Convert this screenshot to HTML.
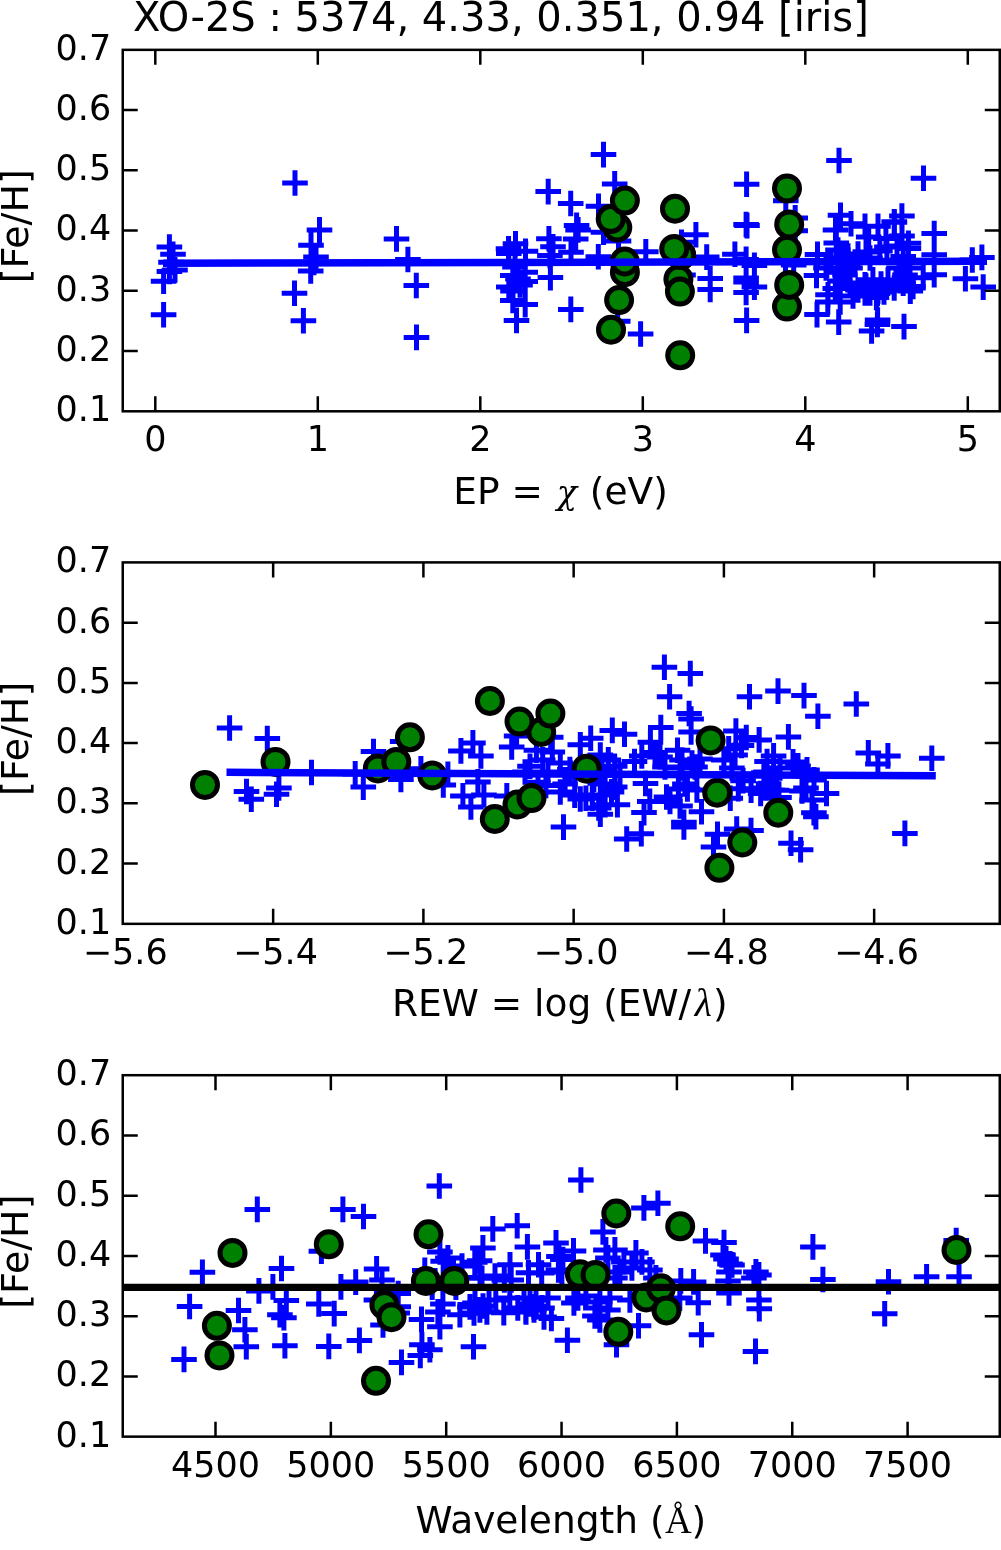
<!DOCTYPE html>
<html><head><meta charset="utf-8"><title>XO-2S</title>
<style>html,body{margin:0;padding:0;background:#fff}svg{display:block}text{font-family:"DejaVu Sans","Liberation Sans",sans-serif;fill:#000}.t{font-size:35px}.l{font-size:37.5px}.ti{font-size:40px}.m{font-family:"DejaVu Serif",serif;font-style:italic;font-size:33.5px}.m2{font-family:"Liberation Serif",serif;font-style:italic;font-size:39.5px}.s{font-family:"Liberation Serif",serif;font-size:37px}.c{stroke:#00f;stroke-width:5;fill:none}.g circle{fill:#008000;stroke:#000;stroke-width:5}.ax{stroke:#000;stroke-width:2.5;fill:none}</style></head><body>
<svg width="1001" height="1550" viewBox="0 0 1001 1550">
<rect width="1001" height="1550" fill="#fff"/>
<text class="ti" x="133" y="30.5">XO-2S : 5374, 4.33, 0.351, 0.94 [iris]</text>
<g>
<clipPath id="cp0"><rect x="122.75" y="49.85" width="877.0" height="361.45"/></clipPath>
<g clip-path="url(#cp0)">
<path class="c" d="M156.6 247.1h25.6M169.4 234.3v25.6M160.2 254.3h25.6M173 241.5v25.6M158.2 262.3h25.6M171 249.5v25.6M162.2 269.9h25.6M175 257.1v25.6M156.6 271.5h25.6M169.4 258.7v25.6M150.8 281.3h25.6M163.6 268.5v25.6M150.8 314.8h25.6M163.6 302v25.6M282.2 183h25.6M295 170.2v25.6M306.7 229.9h25.6M319.5 217.1v25.6M298.2 245.3h25.6M311 232.5v25.6M303.2 256.9h25.6M316 244.1v25.6M297.9 270.9h25.6M310.7 258.1v25.6M281.7 293.2h25.6M294.5 280.4v25.6M290.6 320.8h25.6M303.4 308v25.6M301.2 262.5h25.6M314 249.7v25.6M383.7 238.9h25.6M396.5 226.1v25.6M395.1 259.5h25.6M407.9 246.7v25.6M403.5 285.5h25.6M416.3 272.7v25.6M403.7 337.4h25.6M416.5 324.6v25.6M495.7 248.8h25.6M508.5 236v25.6M502.7 243.8h25.6M515.5 231v25.6M512.7 251.3h25.6M525.5 238.5v25.6M496 253.5h25.6M508.8 240.7v25.6M512.4 272.2h25.6M525.2 259.4v25.6M500 275.4h25.6M512.8 262.6v25.6M512.4 281.4h25.6M525.2 268.6v25.6M496 287.1h25.6M508.8 274.3v25.6M500 300.4h25.6M512.8 287.6v25.6M512.4 304.6h25.6M525.2 291.8v25.6M503.7 320.4h25.6M516.5 307.6v25.6M502.2 267h25.6M515 254.2v25.6M505.2 279h25.6M518 266.2v25.6M500.2 291h25.6M513 278.2v25.6M502.2 262h25.6M515 249.2v25.6M507.2 285h25.6M520 272.2v25.6M536.1 238.7h25.6M548.9 225.9v25.6M540.2 246.8h25.6M553 234v25.6M537.1 255.5h25.6M549.9 242.7v25.6M537.6 277.6h25.6M550.4 264.8v25.6M558.2 252.2h25.6M571 239.4v25.6M558 309.4h25.6M570.8 296.6v25.6M590.7 154.6h25.6M603.5 141.8v25.6M601.9 183.9h25.6M614.7 171.1v25.6M535.4 191.6h25.6M548.2 178.8v25.6M557.9 203.5h25.6M570.7 190.7v25.6M585.7 206.3h25.6M598.5 193.5v25.6M563.8 225.4h25.6M576.6 212.6v25.6M565.3 229.9h25.6M578.1 217.1v25.6M562.9 238.9h25.6M575.7 226.1v25.6M590.7 232.3h25.6M603.5 219.5v25.6M585.5 256.8h25.6M598.3 244v25.6M633 251.8h25.6M645.8 239v25.6M605.7 240.9h25.6M618.5 228.1v25.6M627.8 334h25.6M640.6 321.2v25.6M604.9 321.3h25.6M617.7 308.5v25.6M733.8 184.2h25.6M746.6 171.4v25.6M733.3 224.5h25.6M746.1 211.7v25.6M734.2 225.6h25.6M747 212.8v25.6M683.1 234.7h25.6M695.9 221.9v25.6M668.7 242.3h25.6M681.5 229.5v25.6M693.9 257.1h25.6M706.7 244.3v25.6M722.1 254.2h25.6M734.9 241.4v25.6M733.3 259.4h25.6M746.1 246.6v25.6M741.6 265.4h25.6M754.4 252.6v25.6M697.4 278.6h25.6M710.2 265.8v25.6M697.4 289.4h25.6M710.2 276.6v25.6M733.3 278.1h25.6M746.1 265.3v25.6M733.3 281.9h25.6M746.1 269.1v25.6M741.6 287.1h25.6M754.4 274.3v25.6M733.3 292.4h25.6M746.1 279.6v25.6M733.8 320.4h25.6M746.6 307.6v25.6M670.2 275h25.6M683 262.2v25.6M773 200.7h25.6M785.8 187.9v25.6M782.4 217.9h25.6M795.2 205.1v25.6M782.4 230.7h25.6M795.2 217.9v25.6M772.7 262h25.6M785.5 249.2v25.6M780.9 265h25.6M793.7 252.2v25.6M826.2 160.5h25.6M839 147.7v25.6M827.7 215.3h25.6M840.5 202.5v25.6M838.2 223.8h25.6M851 211v25.6M852.2 226.3h25.6M865 213.5v25.6M865.2 226.3h25.6M878 213.5v25.6M881.6 222.3h25.6M894.4 209.5v25.6M822.7 230h25.6M835.5 217.2v25.6M823.5 243h25.6M836.3 230.2v25.6M804.7 254.4h25.6M817.5 241.6v25.6M803.7 275.4h25.6M816.5 262.6v25.6M815.2 294.7h25.6M828 281.9v25.6M822.5 288.4h25.6M835.3 275.6v25.6M815 301.9h25.6M827.8 289.1v25.6M827.4 301.9h25.6M840.2 289.1v25.6M804.2 314.6h25.6M817 301.8v25.6M825.9 322.1h25.6M838.7 309.3v25.6M864.8 320h25.6M877.6 307.2v25.6M864.6 324.5h25.6M877.4 311.7v25.6M858.8 331h25.6M871.6 318.2v25.6M891.2 326.6h25.6M904 313.8v25.6M855.9 237h25.6M868.7 224.2v25.6M873.1 238.5h25.6M885.9 225.7v25.6M874.1 247h25.6M886.9 234.2v25.6M867.1 251.1h25.6M879.9 238.3v25.6M825.2 250h25.6M838 237.2v25.6M830.2 258h25.6M843 245.2v25.6M835.2 256h25.6M848 243.2v25.6M845.2 254h25.6M858 241.2v25.6M853.2 252h25.6M866 239.2v25.6M842.2 262h25.6M855 249.2v25.6M818.2 262h25.6M831 249.2v25.6M857.2 258h25.6M870 245.2v25.6M890.4 256.4h25.6M903.2 243.6v25.6M889.2 236h25.6M902 223.2v25.6M884.2 246h25.6M897 233.2v25.6M886.2 268h25.6M899 255.2v25.6M892.2 275h25.6M905 262.2v25.6M883.2 280h25.6M896 267.2v25.6M897.2 268h25.6M910 255.2v25.6M832.2 275h25.6M845 262.2v25.6M837.2 283h25.6M850 270.2v25.6M845.2 290h25.6M858 277.2v25.6M853.2 286h25.6M866 273.2v25.6M860.1 279.7h25.6M872.9 266.9v25.6M868.2 284h25.6M881 271.2v25.6M875.2 280h25.6M888 267.2v25.6M863.6 297.4h25.6M876.4 284.6v25.6M827.2 281h25.6M840 268.2v25.6M840.2 296h25.6M853 283.2v25.6M852.2 293h25.6M865 280.2v25.6M871.2 292h25.6M884 279.2v25.6M813.2 268h25.6M826 255.2v25.6M825.2 270h25.6M838 257.2v25.6M837.2 268h25.6M850 255.2v25.6M900.3 286.4h25.6M913.1 273.6v25.6M852.2 284.9h25.6M865 272.1v25.6M865.2 290.9h25.6M878 278.1v25.6M857.2 292.9h25.6M870 280.1v25.6M910.7 178.3h25.6M923.5 165.5v25.6M921.4 233.5h25.6M934.2 220.7v25.6M921.4 254.8h25.6M934.2 242v25.6M921.4 274.8h25.6M934.2 262v25.6M959.5 260h25.6M972.3 247.2v25.6M969.1 257.4h25.6M981.9 244.6v25.6M952.6 278.7h25.6M965.4 265.9v25.6M970.4 287.1h25.6M983.2 274.3v25.6M889.1 216h25.6M901.9 203.2v25.6M881.4 221.8h25.6M894.2 209v25.6M895.6 243.2h25.6M908.4 230.4v25.6M895.6 248.4h25.6M908.4 235.6v25.6M910.4 277.8h25.6M923.2 265v25.6M897.5 291.1h25.6M910.3 278.3v25.6M881.4 287.9h25.6M894.2 275.1v25.6M890.4 283.2h25.6M903.2 270.4v25.6M864.7 293.5h25.6M877.5 280.7v25.6"/>
<g class="g">
<circle cx="619.1" cy="300.1" r="12.5"/>
<circle cx="611" cy="329.7" r="12.5"/>
<circle cx="617.3" cy="227.5" r="12.5"/>
<circle cx="610.7" cy="219.1" r="12.5"/>
<circle cx="680.2" cy="355.3" r="12.5"/>
<circle cx="678.4" cy="279.2" r="12.5"/>
<circle cx="679.9" cy="291.6" r="12.5"/>
<circle cx="681" cy="254.9" r="12.5"/>
<circle cx="675" cy="208.7" r="12.5"/>
<circle cx="681.2" cy="255" r="12.5"/>
<circle cx="674.2" cy="248.9" r="12.5"/>
<circle cx="787" cy="249.8" r="12.5"/>
<circle cx="787" cy="188.4" r="12.5"/>
<circle cx="787" cy="306.6" r="12.5"/>
<circle cx="624.9" cy="272.2" r="12.5"/>
<circle cx="624.7" cy="261.5" r="12.5"/>
<circle cx="789.2" cy="284.9" r="12.5"/>
<circle cx="624.9" cy="200.6" r="12.5"/>
<circle cx="789.2" cy="224.4" r="12.5"/>
</g>
<path d="M163 263.3L987 261.3" stroke="#00f" stroke-width="7.5" fill="none"/>
</g>
<text class="t" text-anchor="end" x="111.2" y="59.75">0.7</text>
<text class="t" text-anchor="end" x="111.2" y="119.99">0.6</text>
<text class="t" text-anchor="end" x="111.2" y="180.23">0.5</text>
<text class="t" text-anchor="end" x="111.2" y="240.47">0.4</text>
<text class="t" text-anchor="end" x="111.2" y="300.72">0.3</text>
<text class="t" text-anchor="end" x="111.2" y="360.96">0.2</text>
<text class="t" text-anchor="end" x="111.2" y="421.2">0.1</text>
<text class="t" text-anchor="middle" x="155.3" y="451.2">0</text>
<text class="t" text-anchor="middle" x="317.8" y="451.2">1</text>
<text class="t" text-anchor="middle" x="480.3" y="451.2">2</text>
<text class="t" text-anchor="middle" x="642.8" y="451.2">3</text>
<text class="t" text-anchor="middle" x="805.3" y="451.2">4</text>
<text class="t" text-anchor="middle" x="967.8" y="451.2">5</text>
<path class="ax" d="M122.75 110.09h15 M999.75 110.09h-15 M122.75 170.33h15 M999.75 170.33h-15 M122.75 230.57h15 M999.75 230.57h-15 M122.75 290.82h15 M999.75 290.82h-15 M122.75 351.06h15 M999.75 351.06h-15 M155.3 411.3v-15 M155.3 49.85v15 M317.8 411.3v-15 M317.8 49.85v15 M480.3 411.3v-15 M480.3 49.85v15 M642.8 411.3v-15 M642.8 49.85v15 M805.3 411.3v-15 M805.3 49.85v15 M967.8 411.3v-15 M967.8 49.85v15"/>
<rect class="ax" x="122.75" y="49.85" width="877.0" height="361.45"/>
<text class="l" style="font-size:38px" text-anchor="middle" transform="translate(27.9 226.28) rotate(-90)">[Fe/H]</text>
<text class="l" y="504"><tspan x="453.3">EP =</tspan><tspan class="m" x="567" text-anchor="middle">χ</tspan><tspan x="589.8">(eV)</tspan></text>
</g>
<g>
<clipPath id="cp1"><rect x="122.75" y="562.4" width="877.0" height="361.45000000000005"/></clipPath>
<g clip-path="url(#cp1)">
<path class="c" d="M216.8 728h25.6M229.6 715.2v25.6M254.5 738.6h25.6M267.3 725.8v25.6M360.7 751.5h25.6M373.5 738.7v25.6M298.7 772.5h25.6M311.5 759.7v25.6M342.4 773.9h25.6M355.2 761.1v25.6M350.5 787.1h25.6M363.3 774.3v25.6M233.7 791.5h25.6M246.5 778.7v25.6M238.5 799.3h25.6M251.3 786.5v25.6M266.1 787.9h25.6M278.9 775.1v25.6M263.7 794.3h25.6M276.5 781.5v25.6M388.1 779.5h25.6M400.9 766.7v25.6M389.9 741.5h25.6M402.7 728.7v25.6M408.1 768.7h25.6M420.9 755.9v25.6M435.1 774.3h25.6M447.9 761.5v25.6M430.5 784.9h25.6M443.3 772.1v25.6M448.1 750.9h25.6M460.9 738.1v25.6M460.1 742.9h25.6M472.9 730.1v25.6M468.1 755.9h25.6M480.9 743.1v25.6M498.9 747h25.6M511.7 734.2v25.6M503.8 735.9h25.6M516.6 723.1v25.6M450.1 795.9h25.6M462.9 783.1v25.6M458.1 806.9h25.6M470.9 794.1v25.6M465.1 781.9h25.6M477.9 769.1v25.6M471.1 794.9h25.6M483.9 782.1v25.6M494 795.9h25.6M506.8 783.1v25.6M599.5 730.4h25.6M612.3 717.6v25.6M611.7 734.3h25.6M624.5 721.5v25.6M577.9 738.3h25.6M590.7 725.5v25.6M567.5 744.7h25.6M580.3 731.9v25.6M550.7 827.1h25.6M563.5 814.3v25.6M613.9 839h25.6M626.7 826.2v25.6M628.5 833.8h25.6M641.3 821v25.6M547.5 792h25.6M560.3 779.2v25.6M587.5 814.3h25.6M600.3 801.5v25.6M567.5 799h25.6M580.3 786.2v25.6M604.6 804.7h25.6M617.4 791.9v25.6M601.9 787.1h25.6M614.7 774.3v25.6M537.9 737.2h25.6M550.7 724.4v25.6M523.6 750.3h25.6M536.4 737.5v25.6M529.9 759.9h25.6M542.7 747.1v25.6M539.5 751.9h25.6M552.3 739.1v25.6M547.5 763.1h25.6M560.3 750.3v25.6M557.1 769.5h25.6M569.9 756.7v25.6M517.2 766.3h25.6M530 753.5v25.6M525.2 782.3h25.6M538 769.5v25.6M533.1 785.5h25.6M545.9 772.7v25.6M552.3 783.9h25.6M565.1 771.1v25.6M561.9 795.1h25.6M574.7 782.3v25.6M587.5 755.1h25.6M600.3 742.3v25.6M595.5 759.9h25.6M608.3 747.1v25.6M601.9 766.3h25.6M614.7 753.5v25.6M589.1 769.5h25.6M601.9 756.7v25.6M581.1 779.1h25.6M593.9 766.3v25.6M592.3 783.9h25.6M605.1 771.1v25.6M598.7 791.9h25.6M611.5 779.1v25.6M587.5 795.1h25.6M600.3 782.3v25.6M579.5 798.3h25.6M592.3 785.5v25.6M592.3 804.7h25.6M605.1 791.9v25.6M585.9 807.9h25.6M598.7 795.1v25.6M573.1 798.3h25.6M585.9 785.5v25.6M512.2 772h25.6M525 759.2v25.6M535.2 772h25.6M548 759.2v25.6M562.2 776h25.6M575 763.2v25.6M577.2 773h25.6M590 760.2v25.6M607.2 775h25.6M620 762.2v25.6M651.6 667.2h25.6M664.4 654.4v25.6M677.5 673.6h25.6M690.3 660.8v25.6M656.8 696.7h25.6M669.6 683.9v25.6M736.7 696.7h25.6M749.5 683.9v25.6M765.2 691.1h25.6M778 678.3v25.6M676.3 713.5h25.6M689.1 700.7v25.6M678.3 719.1h25.6M691.1 706.3v25.6M648 727.6h25.6M660.8 714.8v25.6M678.3 731.9h25.6M691.1 719.1v25.6M723.1 731.1h25.6M735.9 718.3v25.6M733.5 737.5h25.6M746.3 724.7v25.6M746.3 739.9h25.6M759.1 727.1v25.6M664.7 750.3h25.6M677.5 737.5v25.6M637.6 742.3h25.6M650.4 729.5v25.6M671.1 822.2h25.6M683.9 809.4v25.6M671.1 827h25.6M683.9 814.2v25.6M704.7 834.2h25.6M717.5 821.4v25.6M700.7 847h25.6M713.5 834.2v25.6M723.9 829h25.6M736.7 816.2v25.6M738.2 830.5h25.6M751 817.7v25.6M688.7 811.8h25.6M701.5 799v25.6M631.2 812.6h25.6M644 799.8v25.6M715.9 748.7h25.6M728.7 735.9v25.6M722.29 755.09h25.6M735.09 742.29v25.6M728.68 745.5h25.6M741.48 732.7v25.6M711.1 759.88h25.6M723.9 747.08v25.6M754.26 761.48h25.6M767.06 748.68v25.6M719.09 767.88h25.6M731.89 755.08v25.6M751.06 772.67h25.6M763.86 759.87v25.6M725.49 788.66h25.6M738.29 775.86v25.6M738.27 790.26h25.6M751.07 777.46v25.6M747.86 793.45h25.6M760.66 780.65v25.6M755.86 783.86h25.6M768.66 771.06v25.6M717.49 798.25h25.6M730.29 785.45v25.6M730.28 780.66h25.6M743.08 767.86v25.6M763.85 790.26h25.6M776.65 777.46v25.6M621.7 761.5h25.6M634.5 748.7v25.6M629 756h25.6M641.8 743.2v25.6M642.2 752.5h25.6M655 739.7v25.6M647.2 757h25.6M660 744.2v25.6M669.2 760h25.6M682 747.2v25.6M679.2 763h25.6M692 750.2v25.6M687.2 759h25.6M700 746.2v25.6M632.7 783.5h25.6M645.5 770.7v25.6M637 801.4h25.6M649.8 788.6v25.6M657.2 801.4h25.6M670 788.6v25.6M665.6 788.9h25.6M678.4 776.1v25.6M674.6 788.9h25.6M687.4 776.1v25.6M684.1 790h25.6M696.9 777.2v25.6M672.1 784h25.6M684.9 771.2v25.6M667.2 806h25.6M680 793.2v25.6M653.7 797h25.6M666.5 784.2v25.6M652.2 767h25.6M665 754.2v25.6M667.2 768h25.6M680 755.2v25.6M682.2 767h25.6M695 754.2v25.6M791.2 695.6h25.6M804 682.8v25.6M805.1 716.3h25.6M817.9 703.5v25.6M843.5 704h25.6M856.3 691.2v25.6M775.6 736.9h25.6M788.4 724.1v25.6M746.4 739.9h25.6M759.2 727.1v25.6M855.5 752.9h25.6M868.3 740.1v25.6M875.1 755.9h25.6M887.9 743.1v25.6M865.1 763.9h25.6M877.9 751.1v25.6M919 758.3h25.6M931.8 745.5v25.6M892.1 833.4h25.6M904.9 820.6v25.6M778.2 843.2h25.6M791 830.4v25.6M787.8 849.8h25.6M800.6 837v25.6M813.7 793.5h25.6M826.5 780.7v25.6M803.1 816.8h25.6M815.9 804v25.6M801.1 812.8h25.6M813.9 800v25.6M789.2 790.9h25.6M802 778.1v25.6M760.8 755.9h25.6M773.6 743.1v25.6M780.2 761.9h25.6M793 749.1v25.6M785.2 765.9h25.6M798 753.1v25.6M794.2 769.9h25.6M807 757.1v25.6M753.2 771.9h25.6M766 759.1v25.6M767.2 767.9h25.6M780 755.1v25.6M801.2 779.9h25.6M814 767.1v25.6M753.2 787.9h25.6M766 775.1v25.6M759.2 789.9h25.6M772 777.1v25.6M759.2 797.9h25.6M772 785.1v25.6M766.2 797.5h25.6M779 784.7v25.6M793.2 787.9h25.6M806 775.1v25.6M799.2 799.9h25.6M812 787.1v25.6"/>
<g class="g">
<circle cx="778.3" cy="812.7" r="12.5"/>
<circle cx="742.3" cy="842.5" r="12.5"/>
<circle cx="710.6" cy="740.4" r="12.5"/>
<circle cx="541.2" cy="732" r="12.5"/>
<circle cx="719.4" cy="867.8" r="12.5"/>
<circle cx="717.2" cy="792.7" r="12.5"/>
<circle cx="517.5" cy="804.5" r="12.5"/>
<circle cx="377.8" cy="768.4" r="12.5"/>
<circle cx="519.5" cy="721.6" r="12.5"/>
<circle cx="586.7" cy="768.7" r="12.5"/>
<circle cx="275.5" cy="761.9" r="12.5"/>
<circle cx="396.3" cy="761.9" r="12.5"/>
<circle cx="489.9" cy="701" r="12.5"/>
<circle cx="494.8" cy="819" r="12.5"/>
<circle cx="205" cy="784.9" r="12.5"/>
<circle cx="432.3" cy="775.5" r="12.5"/>
<circle cx="531.5" cy="798.1" r="12.5"/>
<circle cx="550.4" cy="713.6" r="12.5"/>
<circle cx="409.9" cy="737.3" r="12.5"/>
</g>
<path d="M226.5 772.3L935.8 775.8" stroke="#00f" stroke-width="7.5" fill="none"/>
</g>
<text class="t" text-anchor="end" x="111.2" y="572.3">0.7</text>
<text class="t" text-anchor="end" x="111.2" y="632.54">0.6</text>
<text class="t" text-anchor="end" x="111.2" y="692.78">0.5</text>
<text class="t" text-anchor="end" x="111.2" y="753.02">0.4</text>
<text class="t" text-anchor="end" x="111.2" y="813.27">0.3</text>
<text class="t" text-anchor="end" x="111.2" y="873.51">0.2</text>
<text class="t" text-anchor="end" x="111.2" y="933.75">0.1</text>
<text class="t" text-anchor="middle" x="125.2" y="963.75">−5.6</text>
<text class="t" text-anchor="middle" x="275.45" y="963.75">−5.4</text>
<text class="t" text-anchor="middle" x="425.7" y="963.75">−5.2</text>
<text class="t" text-anchor="middle" x="575.95" y="963.75">−5.0</text>
<text class="t" text-anchor="middle" x="726.2" y="963.75">−4.8</text>
<text class="t" text-anchor="middle" x="876.45" y="963.75">−4.6</text>
<path class="ax" d="M122.75 622.64h15 M999.75 622.64h-15 M122.75 682.88h15 M999.75 682.88h-15 M122.75 743.12h15 M999.75 743.12h-15 M122.75 803.37h15 M999.75 803.37h-15 M122.75 863.61h15 M999.75 863.61h-15 M273.15 923.85v-15 M273.15 562.4v15 M423.4 923.85v-15 M423.4 562.4v15 M573.65 923.85v-15 M573.65 562.4v15 M723.9 923.85v-15 M723.9 562.4v15 M874.15 923.85v-15 M874.15 562.4v15"/>
<rect class="ax" x="122.75" y="562.4" width="877.0" height="361.45"/>
<text class="l" style="font-size:38px" text-anchor="middle" transform="translate(27.9 738.83) rotate(-90)">[Fe/H]</text>
<text class="l" y="1016.4"><tspan x="392">REW = log (EW/</tspan><tspan class="m2" x="703.4" text-anchor="middle">λ</tspan><tspan x="713">)</tspan></text>
</g>
<g>
<clipPath id="cp2"><rect x="122.75" y="1075.2" width="877.0" height="361.45000000000005"/></clipPath>
<g clip-path="url(#cp2)">
<path class="c" d="M244.5 1209.4h25.6M257.3 1196.6v25.6M330.1 1209.4h25.6M342.9 1196.6v25.6M350.7 1216.5h25.6M363.5 1203.7v25.6M189.6 1272.3h25.6M202.4 1259.5v25.6M268.7 1268.5h25.6M281.5 1255.7v25.6M308.6 1251.3h25.6M321.4 1238.5v25.6M246.1 1290.9h25.6M258.9 1278.1v25.6M260.1 1286.9h25.6M272.9 1274.1v25.6M328.1 1286.9h25.6M340.9 1274.1v25.6M342.9 1282.1h25.6M355.7 1269.3v25.6M176.8 1306.5h25.6M189.6 1293.7v25.6M225.7 1310.5h25.6M238.5 1297.7v25.6M273.5 1300.5h25.6M286.3 1287.7v25.6M267.1 1314.8h25.6M279.9 1302v25.6M271.1 1317.8h25.6M283.9 1305v25.6M306 1303.9h25.6M318.8 1291.1v25.6M321.4 1313.6h25.6M334.2 1300.8v25.6M232.1 1329.8h25.6M244.9 1317v25.6M233.5 1346.8h25.6M246.3 1334v25.6M272.1 1345.8h25.6M284.9 1333v25.6M316 1346.4h25.6M328.8 1333.6v25.6M171.2 1359.4h25.6M184 1346.6v25.6M346.6 1340.4h25.6M359.4 1327.6v25.6M426.5 1186h25.6M439.3 1173.2v25.6M363.8 1268.9h25.6M376.6 1256.1v25.6M369.2 1279.9h25.6M382 1267.1v25.6M385.4 1293.5h25.6M398.2 1280.7v25.6M385.4 1306.7h25.6M398.2 1293.9v25.6M384.4 1313.1h25.6M397.2 1300.3v25.6M370.2 1325h25.6M383 1312.2v25.6M363.6 1299.9h25.6M376.4 1287.1v25.6M388.7 1362.4h25.6M401.5 1349.6v25.6M407.5 1355.4h25.6M420.3 1342.6v25.6M409.1 1344.8h25.6M421.9 1332v25.6M417.1 1349.8h25.6M429.9 1337v25.6M460.7 1346.8h25.6M473.5 1334v25.6M408.7 1319.4h25.6M421.5 1306.6v25.6M427.1 1326.8h25.6M439.9 1314v25.6M425.1 1311.9h25.6M437.9 1299.1v25.6M430.1 1303.9h25.6M442.9 1291.1v25.6M447.1 1314.8h25.6M459.9 1302v25.6M430.4 1261.2h25.6M443.2 1248.4v25.6M412 1270.4h25.6M424.8 1257.6v25.6M427.1 1251.9h25.6M439.9 1239.1v25.6M435.1 1257.9h25.6M447.9 1245.1v25.6M480 1228.9h25.6M492.8 1216.1v25.6M504.4 1225.7h25.6M517.2 1212.9v25.6M470.1 1247.9h25.6M482.9 1235.1v25.6M514.6 1246.9h25.6M527.4 1234.1v25.6M462 1262.3h25.6M474.8 1249.5v25.6M466.8 1260.7h25.6M479.6 1247.9v25.6M467.2 1277.5h25.6M480 1264.7v25.6M469.2 1278.3h25.6M482 1265.5v25.6M491.5 1279.9h25.6M504.3 1267.1v25.6M449.2 1266h25.6M462 1253.2v25.6M497.2 1264.7h25.6M510 1251.9v25.6M482.2 1276h25.6M495 1263.2v25.6M515.7 1272.7h25.6M528.5 1259.9v25.6M525.7 1264.7h25.6M538.5 1251.9v25.6M457.1 1306.9h25.6M469.9 1294.1v25.6M462.2 1303h25.6M475 1290.2v25.6M470.2 1306h25.6M483 1293.2v25.6M476.2 1300h25.6M489 1287.2v25.6M461.2 1313h25.6M474 1300.2v25.6M467.1 1309.9h25.6M479.9 1297.1v25.6M474.1 1311.9h25.6M486.9 1299.1v25.6M491 1312.8h25.6M503.8 1300v25.6M505 1307.9h25.6M517.8 1295.1v25.6M513 1310.9h25.6M525.8 1298.1v25.6M522 1306.9h25.6M534.8 1294.1v25.6M483 1299.9h25.6M495.8 1287.1v25.6M497 1297.9h25.6M509.8 1285.1v25.6M419.4 1287.1h25.6M432.2 1274.3v25.6M443.1 1287.1h25.6M455.9 1274.3v25.6M568.1 1180h25.6M580.9 1167.2v25.6M631.1 1207.9h25.6M643.9 1195.1v25.6M645.1 1203.3h25.6M657.9 1190.5v25.6M590.1 1231.9h25.6M602.9 1219.1v25.6M692.7 1240.9h25.6M705.5 1228.1v25.6M543.2 1242.9h25.6M556 1230.1v25.6M560.7 1250.9h25.6M573.5 1238.1v25.6M554.6 1340.2h25.6M567.4 1327.4v25.6M625.7 1325.8h25.6M638.5 1313v25.6M603.7 1344.8h25.6M616.5 1332v25.6M688.7 1334.8h25.6M701.5 1322v25.6M685.4 1302.8h25.6M698.2 1290v25.6M668 1280.9h25.6M680.8 1268.1v25.6M680.8 1281.9h25.6M693.6 1269.1v25.6M667 1297.9h25.6M679.8 1285.1v25.6M538.6 1318.4h25.6M551.4 1305.6v25.6M593.1 1249.9h25.6M605.9 1237.1v25.6M602.1 1249.9h25.6M614.9 1237.1v25.6M595.1 1257.9h25.6M607.9 1245.1v25.6M611.1 1261.9h25.6M623.9 1249.1v25.6M623.1 1252.9h25.6M635.9 1240.1v25.6M619.1 1267.9h25.6M631.9 1255.1v25.6M629.1 1261.9h25.6M641.9 1249.1v25.6M637.1 1269.9h25.6M649.9 1257.1v25.6M643.1 1277.9h25.6M655.9 1265.1v25.6M607.1 1271.9h25.6M619.9 1259.1v25.6M602.1 1277.9h25.6M614.9 1265.1v25.6M498.4 1279.9h25.6M511.2 1267.1v25.6M546.1 1256.5h25.6M558.9 1243.7v25.6M550.1 1259.5h25.6M562.9 1246.7v25.6M545.6 1270h25.6M558.4 1257.2v25.6M549.1 1272h25.6M561.9 1259.2v25.6M528.9 1273h25.6M541.7 1260.2v25.6M511.2 1297.9h25.6M524 1285.1v25.6M517.2 1303.9h25.6M530 1291.1v25.6M523.2 1299.9h25.6M536 1287.1v25.6M529.2 1307.9h25.6M542 1295.1v25.6M513.2 1311.9h25.6M526 1299.1v25.6M535.2 1297.9h25.6M548 1285.1v25.6M531.2 1316.9h25.6M544 1304.1v25.6M521.2 1309.9h25.6M534 1297.1v25.6M561.1 1302.9h25.6M573.9 1290.1v25.6M565.1 1297.9h25.6M577.9 1285.1v25.6M573.1 1295.9h25.6M585.9 1283.1v25.6M583.1 1307.9h25.6M595.9 1295.1v25.6M587.1 1301.9h25.6M599.9 1289.1v25.6M595.1 1309.9h25.6M607.9 1297.1v25.6M587.1 1319.9h25.6M599.9 1307.1v25.6M582.1 1315.9h25.6M594.9 1303.1v25.6M597.1 1297.9h25.6M609.9 1285.1v25.6M617.1 1299.9h25.6M629.9 1287.1v25.6M711.2 1242.5h25.6M724 1229.7v25.6M710.2 1254.9h25.6M723 1242.1v25.6M717.2 1263.9h25.6M730 1251.1v25.6M713.2 1258.9h25.6M726 1246.1v25.6M719.2 1264.9h25.6M732 1252.1v25.6M716.2 1271.9h25.6M729 1259.1v25.6M715.2 1280.9h25.6M728 1268.1v25.6M716.2 1292.9h25.6M729 1280.1v25.6M743.1 1271.9h25.6M755.9 1259.1v25.6M741.1 1277.9h25.6M753.9 1265.1v25.6M746.1 1274.9h25.6M758.9 1262.1v25.6M746.1 1299.9h25.6M758.9 1287.1v25.6M746.5 1308.8h25.6M759.3 1296v25.6M742.7 1351.4h25.6M755.5 1338.6v25.6M800.1 1246.9h25.6M812.9 1234.1v25.6M810.1 1279.5h25.6M822.9 1266.7v25.6M875.7 1281.8h25.6M888.5 1269v25.6M871.9 1313.7h25.6M884.7 1300.9v25.6M913.8 1276.8h25.6M926.6 1264v25.6M946.2 1276.8h25.6M959 1264v25.6M943.4 1240.6h25.6M956.2 1227.8v25.6"/>
<g class="g">
<circle cx="216.9" cy="1325.8" r="12.5"/>
<circle cx="219.5" cy="1355.4" r="12.5"/>
<circle cx="232.5" cy="1252.9" r="12.5"/>
<circle cx="328.8" cy="1244.3" r="12.5"/>
<circle cx="376" cy="1380.8" r="12.5"/>
<circle cx="384.4" cy="1304.9" r="12.5"/>
<circle cx="391.5" cy="1317.2" r="12.5"/>
<circle cx="425.9" cy="1280.9" r="12.5"/>
<circle cx="428.5" cy="1234.3" r="12.5"/>
<circle cx="454.3" cy="1280.9" r="12.5"/>
<circle cx="579.9" cy="1274.3" r="12.5"/>
<circle cx="595.5" cy="1274.9" r="12.5"/>
<circle cx="616.3" cy="1213.5" r="12.5"/>
<circle cx="618.3" cy="1331.8" r="12.5"/>
<circle cx="646.3" cy="1297.5" r="12.5"/>
<circle cx="660.9" cy="1288.3" r="12.5"/>
<circle cx="666.5" cy="1310.4" r="12.5"/>
<circle cx="680.2" cy="1226.3" r="12.5"/>
<circle cx="956.5" cy="1250" r="12.5"/>
</g>
<path d="M122.75 1287.35L999.75 1287.35" stroke="#000" stroke-width="7.4" fill="none"/>
</g>
<text class="t" text-anchor="end" x="111.2" y="1085.1">0.7</text>
<text class="t" text-anchor="end" x="111.2" y="1145.34">0.6</text>
<text class="t" text-anchor="end" x="111.2" y="1205.58">0.5</text>
<text class="t" text-anchor="end" x="111.2" y="1265.83">0.4</text>
<text class="t" text-anchor="end" x="111.2" y="1326.07">0.3</text>
<text class="t" text-anchor="end" x="111.2" y="1386.31">0.2</text>
<text class="t" text-anchor="end" x="111.2" y="1446.55">0.1</text>
<text class="t" text-anchor="middle" x="215.5" y="1476.55">4500</text>
<text class="t" text-anchor="middle" x="330.85" y="1476.55">5000</text>
<text class="t" text-anchor="middle" x="446.2" y="1476.55">5500</text>
<text class="t" text-anchor="middle" x="561.55" y="1476.55">6000</text>
<text class="t" text-anchor="middle" x="676.9" y="1476.55">6500</text>
<text class="t" text-anchor="middle" x="792.25" y="1476.55">7000</text>
<text class="t" text-anchor="middle" x="907.6" y="1476.55">7500</text>
<path class="ax" d="M122.75 1135.44h15 M999.75 1135.44h-15 M122.75 1195.68h15 M999.75 1195.68h-15 M122.75 1255.93h15 M999.75 1255.93h-15 M122.75 1316.17h15 M999.75 1316.17h-15 M122.75 1376.41h15 M999.75 1376.41h-15 M215.5 1436.65v-15 M215.5 1075.2v15 M330.85 1436.65v-15 M330.85 1075.2v15 M446.2 1436.65v-15 M446.2 1075.2v15 M561.55 1436.65v-15 M561.55 1075.2v15 M676.9 1436.65v-15 M676.9 1075.2v15 M792.25 1436.65v-15 M792.25 1075.2v15 M907.6 1436.65v-15 M907.6 1075.2v15"/>
<rect class="ax" x="122.75" y="1075.2" width="877.0" height="361.45"/>
<text class="l" style="font-size:38px" text-anchor="middle" transform="translate(27.9 1251.63) rotate(-90)">[Fe/H]</text>
<text class="l" y="1533.3"><tspan x="415.5">Wavelength (</tspan><tspan class="s" x="678.3" text-anchor="middle">Å</tspan><tspan x="691.5">)</tspan></text>
</g>
</svg></body></html>
